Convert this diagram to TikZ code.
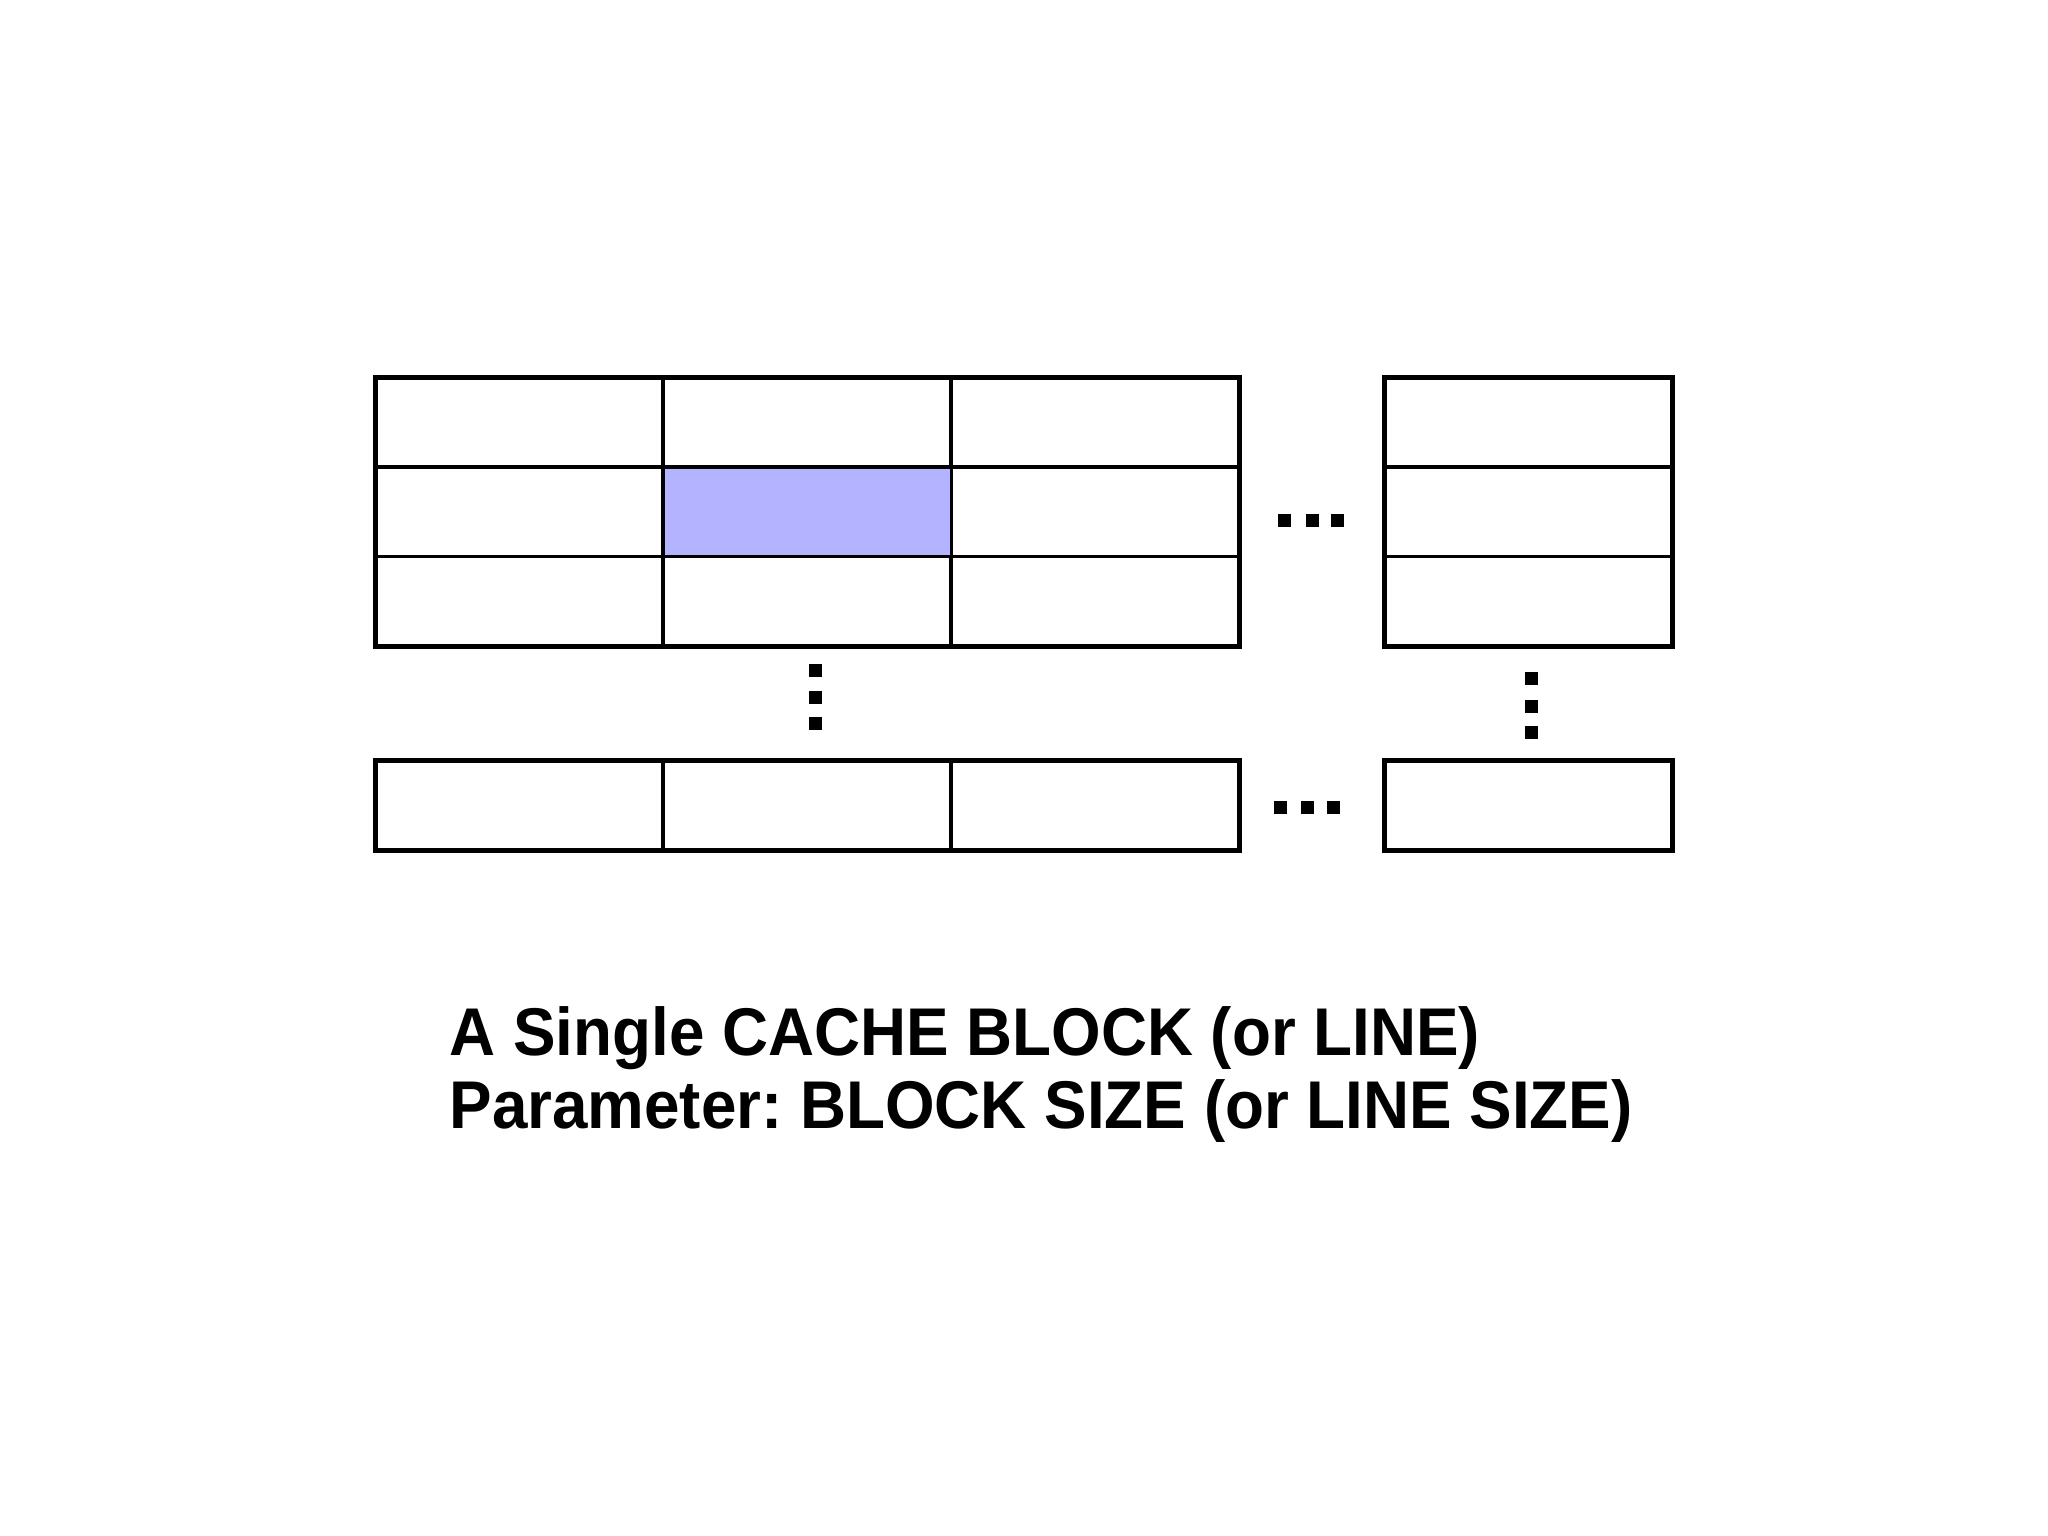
\documentclass[tikz,border=0pt]{standalone}
\usepackage{fontspec}
\setmainfont{Liberation Sans}
\frenchspacing
\definecolor{blockfill}{RGB}{179,179,255}
\tikzset{
  cell/.style={draw, line width=1pt, minimum width=2.88cm, minimum height=0.897cm, inner sep=0pt, outer sep=0pt},
  frame/.style={draw, line width=1.45pt},
  dotsq/.style={fill=black},
  caption/.style={anchor=base west, inner sep=0pt, xscale=0.944, font=\fontsize{19.2}{23}\selectfont\bfseries}
}
\def\sq{++(-6.5,-6.5) rectangle ++(13,13)}

\begin{document}
\begin{tikzpicture}[x=0.01cm, y=-0.01cm]
  \fill[white] (0,0) rectangle (2048,1536);
  \useasboundingbox (0,0) rectangle (2048,1536);
  % the cache, three columns and three rows
  \foreach \c/\x in {1/519.3, 2/807.3, 3/1095.1} {
    \foreach \r/\y in {1/422, 2/511.8, 3/601.3} {
      \node[cell] (c\r\c) at (\x,\y) {};
    }
    \node[cell] (l\c) at (\x,805.7) {};
  }
  \node[cell, fill=blockfill] (block) at (c22.center) {};
  % last column
  \foreach \r/\y in {1/422, 2/511.8, 3/601.3} {
    \node[cell] (r\r) at (1528.3,\y) {};
  }
  \node[cell] (lr) at (1528.3,805.7) {};
  \draw[frame] (c11.north west) rectangle (c33.south east);
  \draw[frame] (r1.north west) rectangle (r3.south east);
  \draw[frame] (l1.north west) rectangle (l3.south east);
  \draw[frame] (lr.north west) rectangle (lr.south east);
  % dots
  \foreach \x in {1284, 1312, 1337} \fill[dotsq] (\x,520.7) \sq;
  \foreach \x in {1280, 1307, 1333} \fill[dotsq] (\x,807) \sq;
  \foreach \y in {670, 697, 723} \fill[dotsq] (815,\y) \sq;
  \foreach \y in {678, 706, 732} \fill[dotsq] (1531,\y) \sq;
  \node[caption] (title) at (449,1055) {A Single CACHE BLOCK (or LINE)};
  \node[caption] (param) at (449,1128) {Parameter: BLOCK SIZE (or LINE SIZE)};
\end{tikzpicture}
\end{document}
